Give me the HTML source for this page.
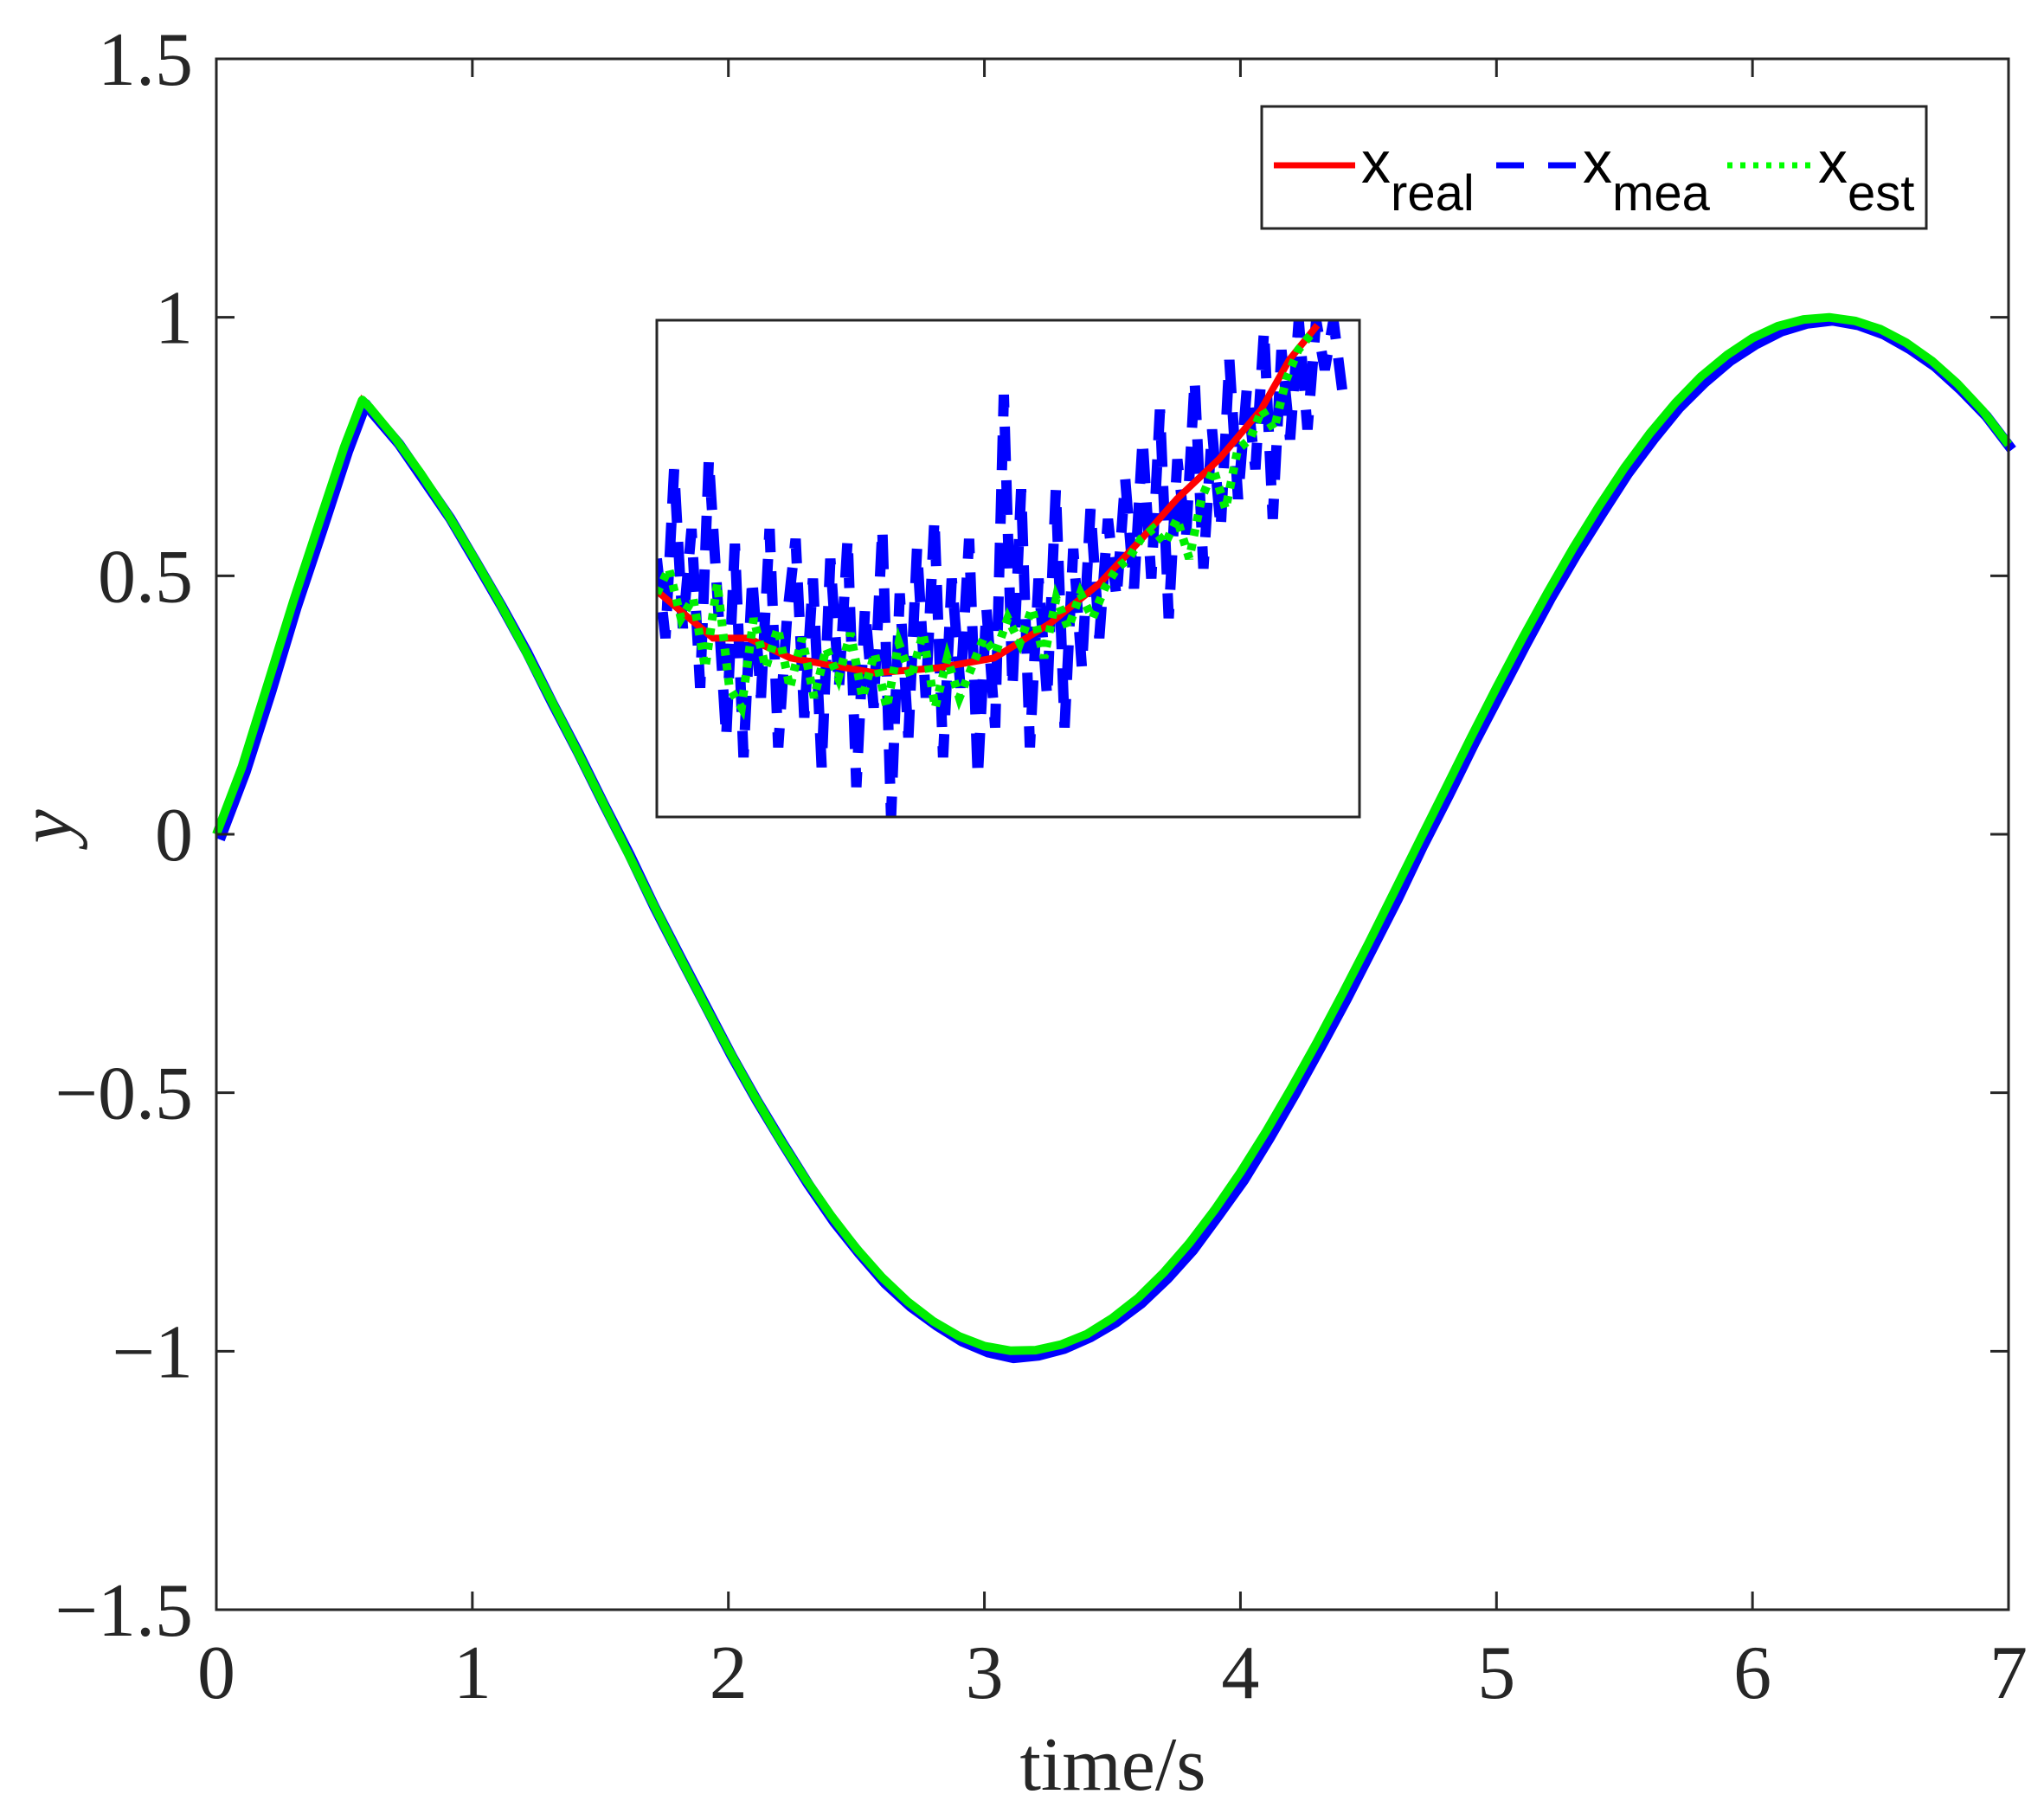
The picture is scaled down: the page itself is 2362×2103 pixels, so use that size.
<!DOCTYPE html>
<html><head><meta charset="utf-8">
<style>
html,body{margin:0;padding:0;background:#fff;}
svg{display:block;}
.tick{font-family:"Liberation Serif",serif;font-size:88px;fill:#262626;}
.leg{font-family:"Liberation Sans",sans-serif;fill:#000;}
</style></head>
<body>
<svg id="chart" width="2362" height="2103" viewBox="0 0 2362 2103" xmlns="http://www.w3.org/2000/svg">
<rect x="0" y="0" width="2362" height="2103" fill="#fff"/>
<g id="plot"></g>
<g id="axes"></g>
<g id="inset"></g>
<g id="legend">
<rect x="1458" y="123" width="768" height="141" fill="#fff" stroke="#262626" stroke-width="3"/>
<line x1="1472" y1="191" x2="1566" y2="191" stroke="#f00" stroke-width="7"/>
<text class="leg" x="1573" y="211" font-size="68">x<tspan font-size="58" dy="32">real</tspan></text>
<line x1="1729" y1="191" x2="1822" y2="191" stroke="#00f" stroke-width="7" stroke-dasharray="32 28"/>
<text class="leg" x="1829" y="211" font-size="68">x<tspan font-size="58" dy="32">mea</tspan></text>
<line x1="1996" y1="191" x2="2093" y2="191" stroke="#0f0" stroke-width="7" stroke-dasharray="6 9"/>
<text class="leg" x="2101" y="211" font-size="68">x<tspan font-size="58" dy="32">est</tspan></text>
</g>
<text class="tick" x="1286" y="2068" text-anchor="middle" font-size="112">time/s</text>
<text class="tick" x="0" y="0" text-anchor="middle" font-style="italic" font-size="100" transform="translate(82,955) rotate(-90)">y</text>
</svg>
<script>
const times = [0,0.1,0.2,0.3,0.4,0.5,0.57,0.6,0.7,0.8,0.9,1,1.1,1.2,1.3,1.4,1.5,1.6,1.7,1.8,1.9,2,2.1,2.2,2.3,2.4,2.5,2.6,2.7,2.8,2.9,3,3.1,3.2,3.3,3.4,3.5,3.6,3.7,3.8,3.9,4,4.1,4.2,4.3,4.4,4.5,4.6,4.7,4.8,4.9,5,5.1,5.2,5.3,5.4,5.5,5.6,5.7,5.8,5.9,6,6.1,6.2,6.3,6.4,6.5,6.6,6.7,6.8,6.9,7];
const realValues = [0,0.13,0.29,0.45,0.6,0.75,0.84,0.825,0.765,0.697,0.622,0.54,0.454,0.362,0.267,0.17,0.071,-0.029,-0.129,-0.227,-0.323,-0.416,-0.505,-0.589,-0.666,-0.737,-0.801,-0.857,-0.904,-0.942,-0.971,-0.99,-0.999,-0.998,-0.987,-0.967,-0.936,-0.897,-0.848,-0.791,-0.726,-0.654,-0.575,-0.49,-0.401,-0.307,-0.211,-0.112,-0.012,0.087,0.187,0.284,0.378,0.468,0.554,0.634,0.709,0.776,0.835,0.886,0.927,0.96,0.983,0.996,1.0,0.993,0.977,0.951,0.916,0.872,0.819,0.754];
const meaOffsets = [-0.01,-0.01,-0.015,-0.01,-0.012,-0.01,-0.008,-0.012,-0.01,-0.014,-0.011,-0.013,-0.012,-0.01,-0.014,-0.012,-0.013,-0.01,-0.014,-0.012,-0.011,-0.013,-0.012,-0.01,-0.012,-0.013,-0.011,-0.012,-0.01,-0.008,-0.01,-0.012,-0.014,-0.01,-0.008,-0.006,-0.008,-0.01,-0.012,-0.014,-0.012,-0.015,-0.013,-0.012,-0.011,-0.013,-0.012,-0.014,-0.01,-0.012,-0.011,-0.013,-0.012,-0.01,-0.012,-0.013,-0.011,-0.012,-0.01,-0.012,-0.011,-0.012,-0.01,-0.008,-0.006,-0.008,-0.01,-0.012,-0.011,-0.012,-0.01,-0.01];
const xTicks = [0,1,2,3,4,5,6,7];
const yTicks = [1.5,1,0.5,0,-0.5,-1,-1.5];
const yTickLabels = ["1.5","1","0.5","0","\u22120.5","\u22121","\u22121.5"];

// inset data (normalized 0..1 coordinates within inset box)
const insetRealX = [0,0.08,0.13,0.19,0.31,0.4,0.48,0.56,0.63,0.69,0.74,0.8,0.86,0.9,0.94];
const insetRealY = [0.455,0.36,0.36,0.32,0.29,0.30,0.32,0.39,0.47,0.56,0.64,0.72,0.82,0.92,0.99];
const insetMeaY = [0.52,0.36,0.7,0.38,0.58,0.26,0.72,0.44,0.16,0.55,0.12,0.48,0.24,0.58,0.14,0.4,0.56,0.2,0.48,0.1,0.52,0.26,0.56,0.06,0.42,0.22,0.58,0.0,0.45,0.16,0.54,0.24,0.6,0.12,0.48,0.26,0.56,0.08,0.42,0.18,0.85,0.26,0.66,0.14,0.48,0.24,0.66,0.18,0.54,0.3,0.62,0.36,0.6,0.44,0.68,0.46,0.76,0.48,0.82,0.4,0.72,0.56,0.88,0.5,0.78,0.58,0.92,0.64,0.86,0.7,0.98,0.6,0.94,0.76,1.0,0.78,1.0,0.9,1.0,0.86];
const insetEstY = [0.45,0.5,0.4,0.44,0.3,0.47,0.26,0.22,0.4,0.3,0.38,0.26,0.36,0.24,0.34,0.28,0.37,0.24,0.33,0.22,0.35,0.28,0.37,0.22,0.32,0.24,0.3,0.36,0.33,0.4,0.35,0.42,0.32,0.44,0.38,0.45,0.4,0.46,0.5,0.52,0.56,0.58,0.55,0.6,0.52,0.64,0.7,0.62,0.74,0.76,0.82,0.78,0.88,0.94,0.97];

const NS = "http://www.w3.org/2000/svg";
const L = 250, R = 2321, T = 68, B = 1860;
const xs = t => L + (t - 0) / 7 * (R - L);
const ys = v => B - (v + 1.5) / 3 * (B - T);
function mk(tag, attrs, parent) {
  const e = document.createElementNS(NS, tag);
  for (const k in attrs) e.setAttribute(k, attrs[k]);
  parent.appendChild(e);
  return e;
}
const plot = document.getElementById('plot');
const axes = document.getElementById('axes');
const inset = document.getElementById('inset');

let dMea = times.map((t, i) => (i ? 'L' : 'M') + (xs(t) + 4).toFixed(1) + ',' + ys(realValues[i] + meaOffsets[i]).toFixed(1)).join(' ');
const meaPath = mk('path', {d: dMea, fill: 'none', stroke: '#00f', 'stroke-width': 12, 'stroke-linejoin': 'round'}, plot);


let dReal = times.map((t, i) => (i ? 'L' : 'M') + xs(t).toFixed(1) + ',' + ys(realValues[i]).toFixed(1)).join(' ');
const realPath = mk('path', {d: dReal, fill: 'none', stroke: '#f00', 'stroke-width': 7}, plot);


const estPath = mk('path', {d: dReal, fill: 'none', stroke: '#00ee00', 'stroke-width': 10, 'stroke-linejoin': 'round'}, plot);



const box = mk('rect', {x: L, y: T, width: R - L, height: B - T, fill: 'none', stroke: '#262626', 'stroke-width': 3}, axes);


xTicks.forEach(t => {
  const x = xs(t);
  mk('line', {x1: x, y1: B, x2: x, y2: B - 21, stroke: '#262626', 'stroke-width': 3}, axes);
  mk('line', {x1: x, y1: T, x2: x, y2: T + 21, stroke: '#262626', 'stroke-width': 3}, axes);
  const tx = mk('text', {x: x, y: 1962, 'text-anchor': 'middle', class: 'tick'}, axes);
  tx.textContent = String(t);
  
  
});
yTicks.forEach((v, i) => {
  const y = ys(v);
  mk('line', {x1: L, y1: y, x2: L + 21, y2: y, stroke: '#262626', 'stroke-width': 3}, axes);
  mk('line', {x1: R, y1: y, x2: R - 21, y2: y, stroke: '#262626', 'stroke-width': 3}, axes);
  const tx = mk('text', {x: 223, y: y + 30, 'text-anchor': 'end', class: 'tick'}, axes);
  tx.textContent = yTickLabels[i];
  
  
});

const IL = 759, IR = 1571, IT = 370, IB = 944;
const ix = f => IL + f * (IR - IL);
const iy = f => IB - f * (IB - IT);
const ibg = mk('rect', {x: IL, y: IT, width: IR - IL, height: IB - IT, fill: '#fff'}, inset);


const clip = mk('clipPath', {id: 'ic'}, inset);
mk('rect', {x: IL, y: IT, width: IR - IL, height: IB - IT}, clip);
const ig = mk('g', {'clip-path': 'url(#ic)'}, inset);
const dM = insetMeaY.map((v, i) => (i ? 'L' : 'M') + ix(i / 81).toFixed(1) + ',' + iy(v).toFixed(1)).join(' ');
const im = mk('path', {d: dM, fill: 'none', stroke: '#00f', 'stroke-width': 12, 'stroke-dasharray': '40 22'}, ig);


const dR = insetRealX.map((x, i) => (i ? 'L' : 'M') + ix(x).toFixed(1) + ',' + iy(insetRealY[i]).toFixed(1)).join(' ');
const ir = mk('path', {d: dR, fill: 'none', stroke: '#f00', 'stroke-width': 8}, ig);


const dE = insetEstY.map((v, i) => (i ? 'L' : 'M') + ix(i / 54 * 0.93).toFixed(1) + ',' + iy(v).toFixed(1)).join(' ');
const ie = mk('path', {d: dE, fill: 'none', stroke: '#00ee00', 'stroke-width': 10, 'stroke-dasharray': '8 9'}, ig);


const ib = mk('rect', {x: IL, y: IT, width: IR - IL, height: IB - IT, fill: 'none', stroke: '#262626', 'stroke-width': 3}, inset);


</script>
</body></html>
